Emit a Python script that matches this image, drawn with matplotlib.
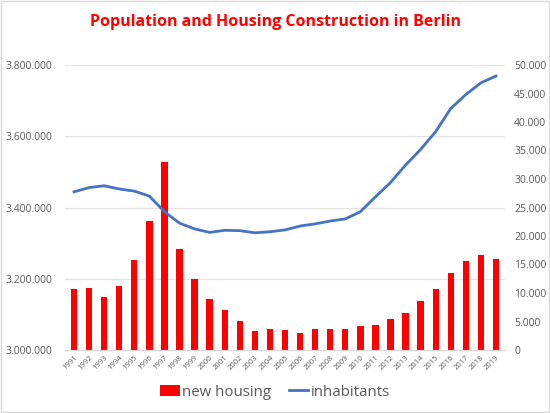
import matplotlib.pyplot as plt
import matplotlib.ticker as mticker

years = list(range(1991, 2020))
new_housing = [10650, 10820, 9360, 11230, 15790, 22630, 32930, 17660, 12510, 8950,
               7020, 5090, 3330, 3680, 3450, 3040, 3630, 3740, 3680, 4270,
               4440, 5380, 6550, 8650, 10650, 13560, 15610, 16610, 15960]
inhabitants = [3444000, 3456000, 3461000, 3452000, 3446000, 3432000, 3388000, 3356000, 3340000, 3330000,
               3336000, 3335000, 3329000, 3332000, 3337000, 3348000, 3354000, 3362000, 3368000, 3388000,
               3430000, 3470000, 3519000, 3563000, 3613000, 3678000, 3717000, 3750000, 3769000]

plt.rcParams['font.family'] = ['Open Sans', 'DejaVu Sans']


def dotted(x, pos):
    return f"{int(x):,}".replace(',', '.')


fig = plt.figure(figsize=(5.5, 4.13), dpi=100)
ax = fig.add_axes([65 / 550, 1 - 350 / 413, 440 / 550, 285 / 413])
ax2 = ax.twinx()

pos = list(range(len(years)))
ax2.bar(pos, new_housing, width=0.42, color='#ff0000', label='new housing', zorder=2)
ax.plot(pos, inhabitants, color='#4472c4', lw=2, label='inhabitants', zorder=3)

# Linie über den Balken
ax.set_zorder(ax2.get_zorder() + 1)
ax.patch.set_visible(False)

ax.set_ylim(3000000, 3800000)
ax.set_yticks([3000000, 3200000, 3400000, 3600000, 3800000])
ax.yaxis.set_major_formatter(mticker.FuncFormatter(dotted))
ax2.set_ylim(0, 50000)
ax2.set_yticks(range(0, 50001, 5000))
ax2.yaxis.set_major_formatter(mticker.FuncFormatter(dotted))
ax.set_xlim(-0.6, len(years) - 0.4)
ax.set_xticks(pos)
ax.set_xticklabels([str(y) for y in years], rotation=45, ha='right', rotation_mode='anchor',
                   fontsize=5.5, color='#595959')

for a in (ax, ax2):
    for s in a.spines.values():
        s.set_visible(False)
    a.tick_params(length=0, labelsize=7.5, colors='#595959')
ax.tick_params(axis='y', pad=9)
ax2.tick_params(axis='y', pad=6.5)
ax.tick_params(axis='x', labelsize=5.5, pad=3)
ax.spines['bottom'].set_visible(True)
ax.spines['bottom'].set_color('#d9d9d9')
for yv in [3000000, 3200000, 3400000, 3600000, 3800000]:
    ax2.axhline((yv - 3000000) / 800000 * 50000, color='#e3e3e3', lw=0.9, zorder=0)

fig.suptitle('Population and Housing Construction in Berlin', color='#ff0000',
             fontsize=11.5, fontweight='bold', y=0.965)

h1, l1 = ax2.get_legend_handles_labels()
h2, l2 = ax.get_legend_handles_labels()
fig.legend(h1 + h2, l1 + l2, loc='center', bbox_to_anchor=(0.5, 1 - 392 / 413), ncol=2,
           frameon=False, fontsize=10.8, labelcolor='#595959', handlelength=1.3, columnspacing=1.2,
           handletextpad=0.15)

fig.patches.append(plt.Rectangle((0.002, 0.002), 0.996, 0.996, transform=fig.transFigure,
                                 fill=False, edgecolor='#d9d9d9', lw=1))

fig.savefig('out.png', dpi=100)
